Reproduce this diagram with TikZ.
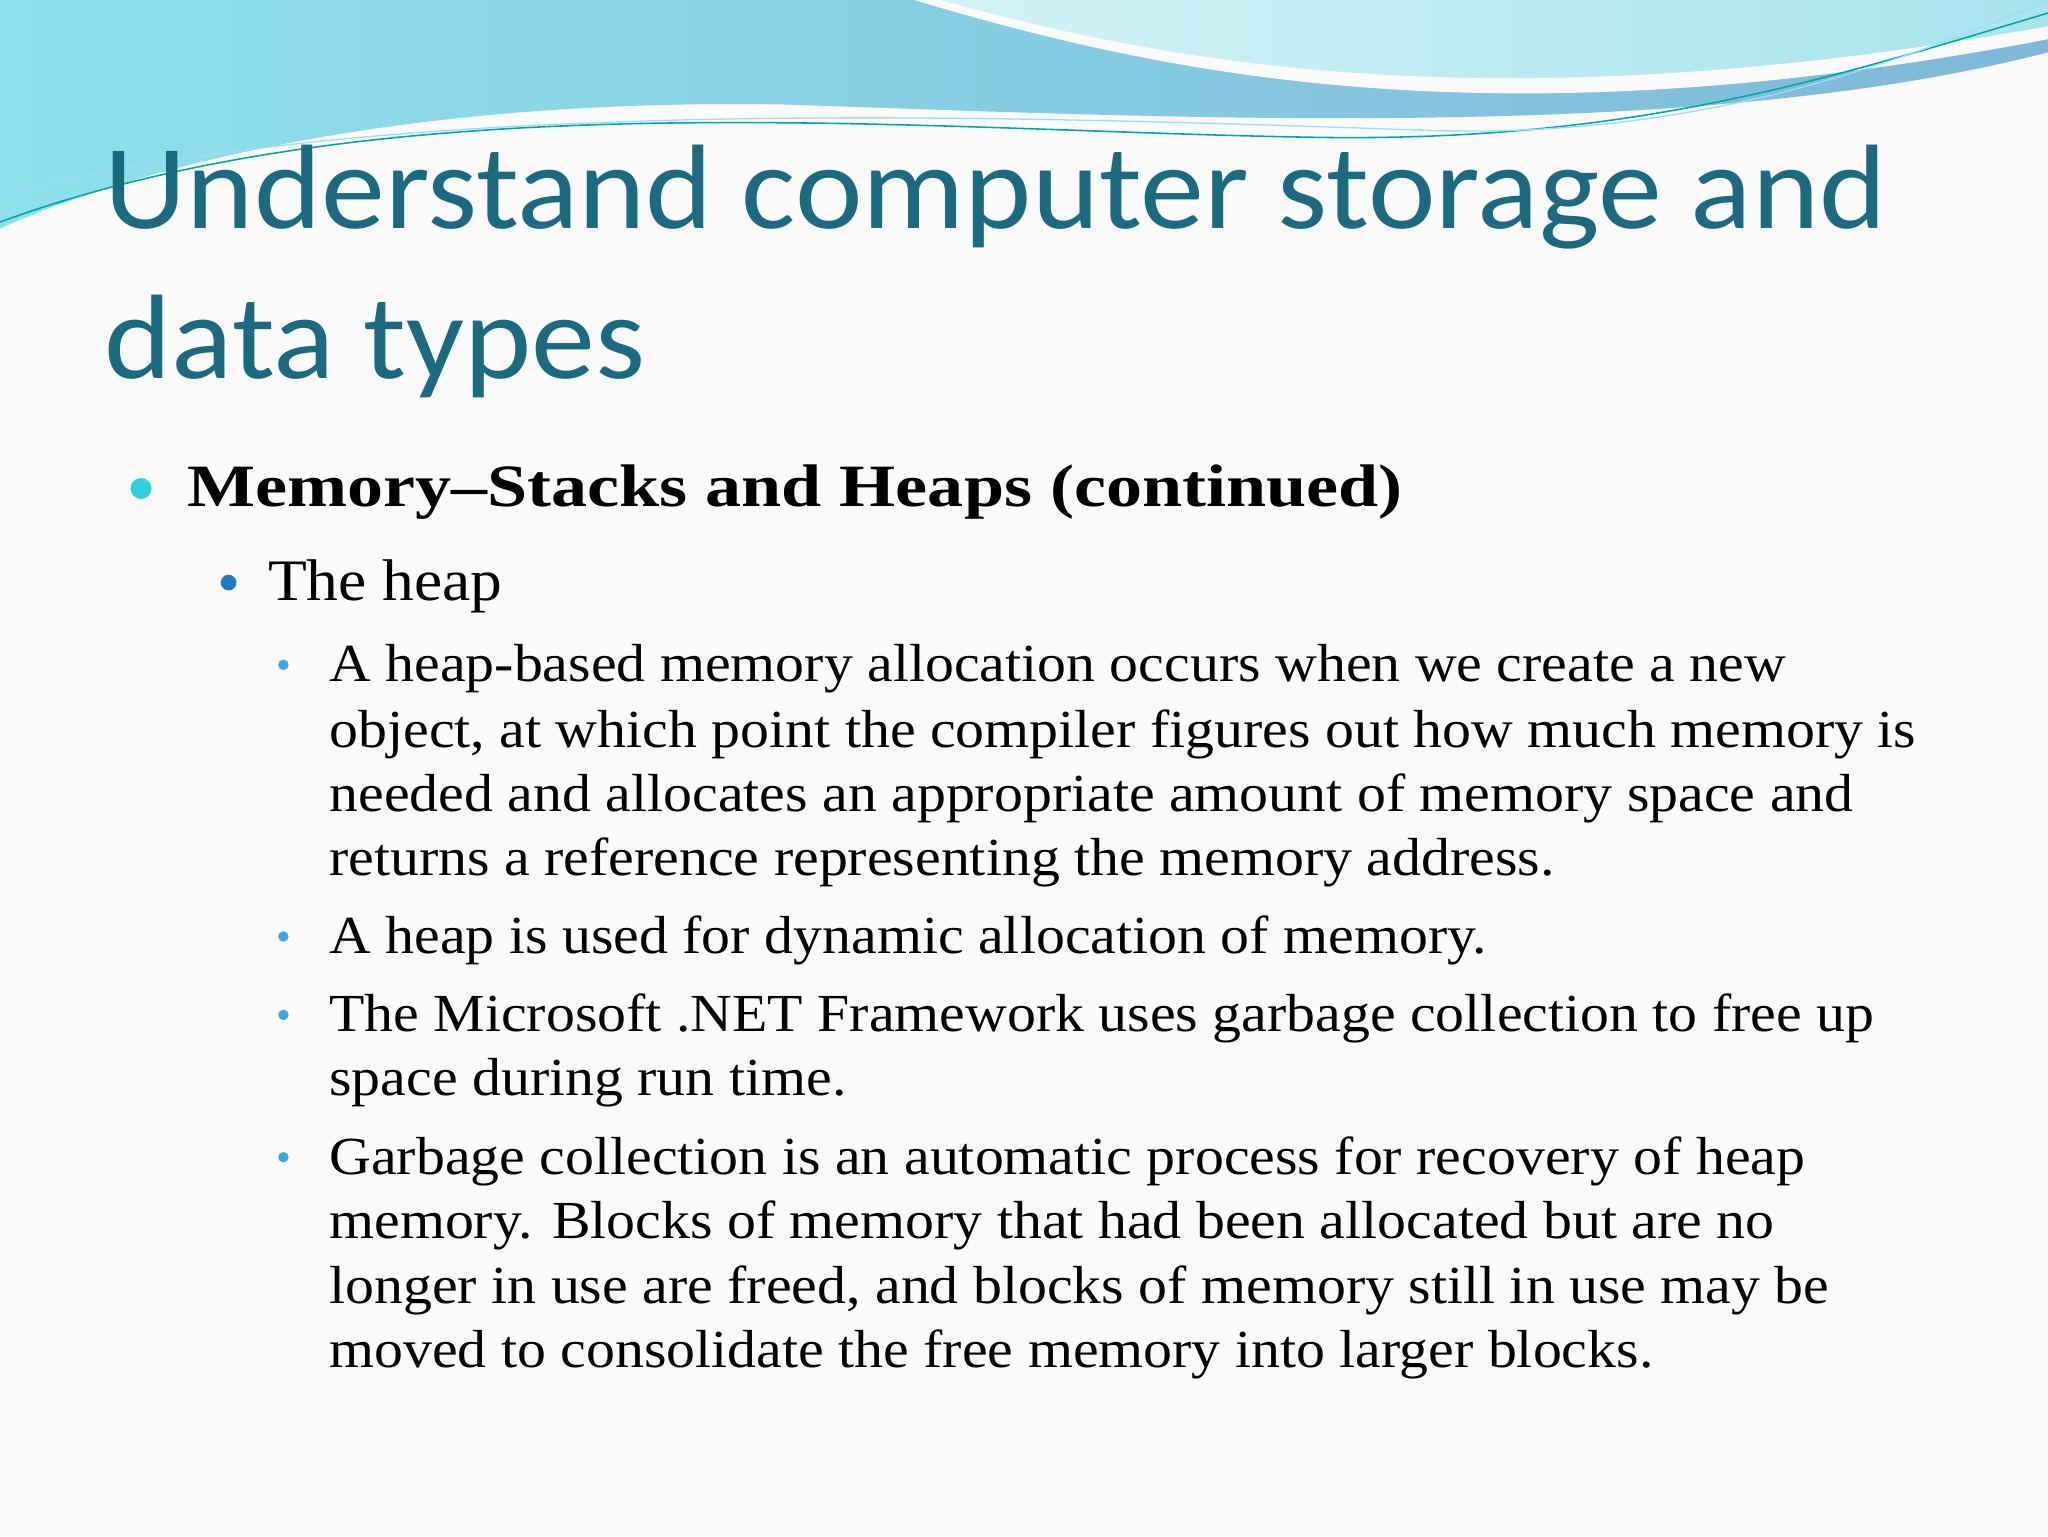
\documentclass[tikz,border=0pt]{standalone}
\usepackage{fontspec}
\setmainfont[FakeStretch=1.08]{Liberation Serif}
\newfontfamily\headfont[FakeStretch=1.2]{Liberation Serif}
\newfontfamily\titlefont[FakeStretch=1.065]{Carlito}
\definecolor{titlec}{HTML}{1C6A80}
\definecolor{bl1}{HTML}{2ECFDC}
\definecolor{bl2}{HTML}{1F7CC4}
\definecolor{bl3}{HTML}{3AA8DA}
\definecolor{wa}{HTML}{8EE0EC}
\definecolor{wb}{HTML}{7FB8D8}
\definecolor{wc}{HTML}{A8E4EE}
\begin{document}
\begin{tikzpicture}[x=1pt,y=-1pt,
  tl/.style={anchor=base west,inner sep=0pt,font=\titlefont\fontsize{92}{92}\selectfont,text=titlec},
  bt/.style={anchor=base west,inner sep=0pt,font=\fontsize{41}{41}\selectfont},
  dot/.style={circle,inner sep=0pt,minimum size=#1}]
\useasboundingbox (0,0) rectangle (1568,1176);
\fill[white!96!gray] (0,0) rectangle (1568,1176);
% top wave
\shade[left color=wa,right color=wb]
  (0,0) -- (1568,0) -- (1568,40) .. controls (1300,110) and (900,90) .. (600,80)
  .. controls (300,75) and (100,130) .. (0,175) -- cycle;
\fill[white!96!gray] (700,0) .. controls (900,60) and (1150,110) .. (1568,30) -- (1568,0) -- cycle;
\shade[left color=wc!50!white,right color=wc]
  (720,0) .. controls (900,50) and (1150,95) .. (1568,20) -- (1568,0) -- cycle;
\draw[teal!70!cyan,line width=1.2pt] (0,170) .. controls (300,60) and (700,100) .. (1000,105) .. controls (1250,110) and (1400,60) .. (1568,10);
\draw[cyan!40!white,line width=1pt] (0,150) .. controls (300,70) and (800,90) .. (1100,100) .. controls (1300,105) and (1450,50) .. (1568,0);
% title
\node[tl] (t1) at (80,175) {Understand computer storage and};
\node[tl] (t2) at (80,290) {data types};
% bullets
\node[dot=16pt,fill=bl1] (b0) at (108,374) {};
\node[bt,font=\headfont\bfseries\fontsize{46}{46}\selectfont] (h) at (143,388) {Memory–Stacks and Heaps (continued)};
\node[dot=12pt,fill=bl2] (b1) at (175,446) {};
\node[bt,font=\fontsize{45}{45}\selectfont] (th) at (205,460) {The heap};
\foreach \y in {509,717,777,886} \node[dot=8pt,fill=bl3] at (217,\y) {};
\node[bt] at (252,522) {A heap-based memory allocation occurs when we create a new};
\node[bt] at (252,572) {object, at which point the compiler figures out how much memory is};
\node[bt] at (252,621) {needed and allocates an appropriate amount of memory space and};
\node[bt] at (252,670) {returns a reference representing the memory address.};
\node[bt] at (252,730) {A heap is used for dynamic allocation of memory.};
\node[bt] at (252,790) {The Microsoft .NET Framework uses garbage collection to free up};
\node[bt] at (252,839) {space during run time.};
\node[bt] at (252,899) {Garbage collection is an automatic process for recovery of heap};
\node[bt] at (252,948) {memory. Blocks of memory that had been allocated but are no};
\node[bt] at (252,998) {longer in use are freed, and blocks of memory still in use may be};
\node[bt] at (252,1047) {moved to consolidate the free memory into larger blocks.};
\end{tikzpicture}
\end{document}
